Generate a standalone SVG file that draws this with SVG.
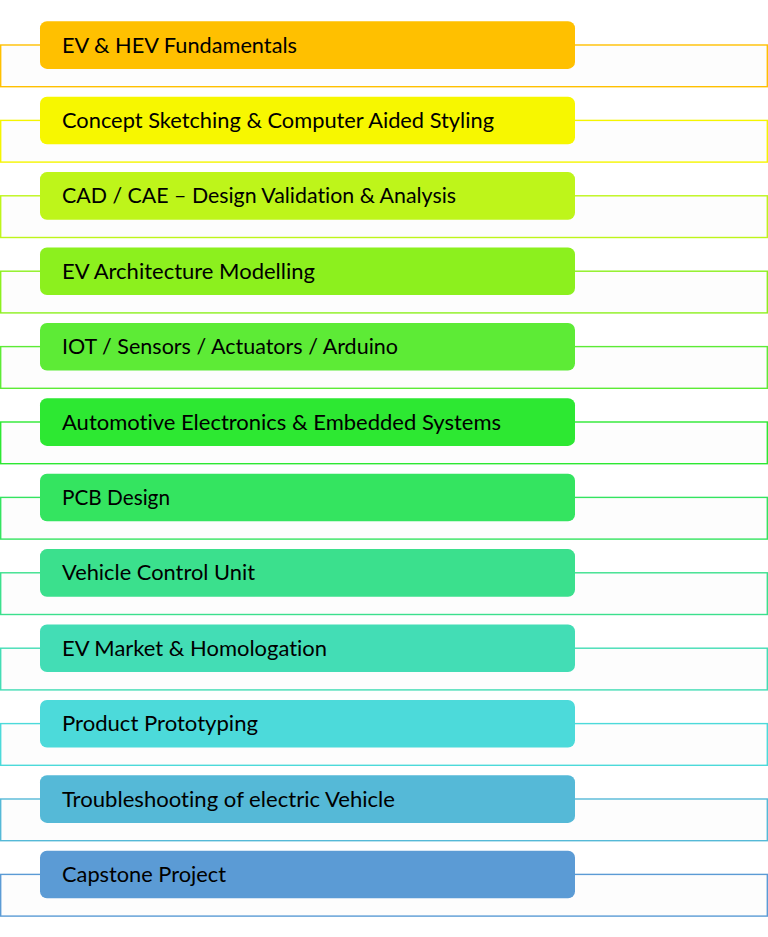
<svg xmlns="http://www.w3.org/2000/svg" width="768" height="937" viewBox="0 0 768 937">
<style>
.frame{fill:#fdfdfd;stroke-width:1.4}
.bar{stroke:none}
.lbl{font-family:Lato,"Open Sans","Liberation Sans",sans-serif;font-size:22px;fill:#000;font-variant-ligatures:none;font-feature-settings:"liga" 0}
</style>
<rect width="768" height="937" fill="#fff"/>
<g id="connectors">
<rect class="frame" x="0.7" y="45" width="766.6" height="41.7" stroke="#FFC000"/>
<rect class="frame" x="0.7" y="120.4" width="766.6" height="41.7" stroke="#F5F500"/>
<rect class="frame" x="0.7" y="195.8" width="766.6" height="41.7" stroke="#BEF51A"/>
<rect class="frame" x="0.7" y="271.2" width="766.6" height="41.7" stroke="#8CF01E"/>
<rect class="frame" x="0.7" y="346.6" width="766.6" height="41.7" stroke="#5DEB36"/>
<rect class="frame" x="0.7" y="422" width="766.6" height="41.7" stroke="#2DE832"/>
<rect class="frame" x="0.7" y="497.4" width="766.6" height="41.7" stroke="#34E460"/>
<rect class="frame" x="0.7" y="572.8" width="766.6" height="41.7" stroke="#3BE08D"/>
<rect class="frame" x="0.7" y="648.2" width="766.6" height="41.7" stroke="#43DDB5"/>
<rect class="frame" x="0.7" y="723.6" width="766.6" height="41.7" stroke="#4CDADA"/>
<rect class="frame" x="0.7" y="799" width="766.6" height="41.7" stroke="#55B9D7"/>
<rect class="frame" x="0.7" y="874.4" width="766.6" height="41.7" stroke="#5B9BD5"/>
</g>
<g id="n1"><rect class="bar" x="40" y="21.3" width="535" height="47.6" rx="7" fill="#FFC000"/><text class="lbl" x="62" y="52.5" textLength="235" lengthAdjust="spacingAndGlyphs">EV &amp; HEV Fundamentals</text></g>
<g id="n2"><rect class="bar" x="40" y="96.7" width="535" height="47.6" rx="7" fill="#F7F700"/><text class="lbl" x="62" y="127.9" textLength="432" lengthAdjust="spacingAndGlyphs">Concept Sketching &amp; Computer Aided Styling</text></g>
<g id="n3"><rect class="bar" x="40" y="172.1" width="535" height="47.6" rx="7" fill="#BEF51A"/><text class="lbl" x="62" y="203.3" textLength="394" lengthAdjust="spacingAndGlyphs">CAD / CAE – Design Validation &amp; Analysis</text></g>
<g id="n4"><rect class="bar" x="40" y="247.5" width="535" height="47.6" rx="7" fill="#8CF01E"/><text class="lbl" x="62" y="278.7" textLength="253" lengthAdjust="spacingAndGlyphs">EV Architecture Modelling</text></g>
<g id="n5"><rect class="bar" x="40" y="322.9" width="535" height="47.6" rx="7" fill="#5DEB36"/><text class="lbl" x="62" y="354.1" textLength="336" lengthAdjust="spacingAndGlyphs">IOT / Sensors / Actuators / Arduino</text></g>
<g id="n6"><rect class="bar" x="40" y="398.3" width="535" height="47.6" rx="7" fill="#2DE832"/><text class="lbl" x="62" y="429.5" textLength="439" lengthAdjust="spacingAndGlyphs">Automotive Electronics &amp; Embedded Systems</text></g>
<g id="n7"><rect class="bar" x="40" y="473.7" width="535" height="47.6" rx="7" fill="#34E460"/><text class="lbl" x="62" y="504.9" textLength="108" lengthAdjust="spacingAndGlyphs">PCB Design</text></g>
<g id="n8"><rect class="bar" x="40" y="549.1" width="535" height="47.6" rx="7" fill="#3BE08D"/><text class="lbl" x="62" y="580.3" textLength="193" lengthAdjust="spacingAndGlyphs">Vehicle Control Unit</text></g>
<g id="n9"><rect class="bar" x="40" y="624.5" width="535" height="47.6" rx="7" fill="#43DDB5"/><text class="lbl" x="62" y="655.7" textLength="265" lengthAdjust="spacingAndGlyphs">EV Market &amp; Homologation</text></g>
<g id="n10"><rect class="bar" x="40" y="699.9" width="535" height="47.6" rx="7" fill="#4CDADA"/><text class="lbl" x="62" y="731.1" textLength="196" lengthAdjust="spacingAndGlyphs">Product Prototyping</text></g>
<g id="n11"><rect class="bar" x="40" y="775.3" width="535" height="47.6" rx="7" fill="#55B9D7"/><text class="lbl" x="62" y="806.5" textLength="333" lengthAdjust="spacingAndGlyphs">Troubleshooting of electric Vehicle</text></g>
<g id="n12"><rect class="bar" x="40" y="850.7" width="535" height="47.6" rx="7" fill="#5B9BD5"/><text class="lbl" x="62" y="881.9" textLength="164" lengthAdjust="spacingAndGlyphs">Capstone Project</text></g>
</svg>
